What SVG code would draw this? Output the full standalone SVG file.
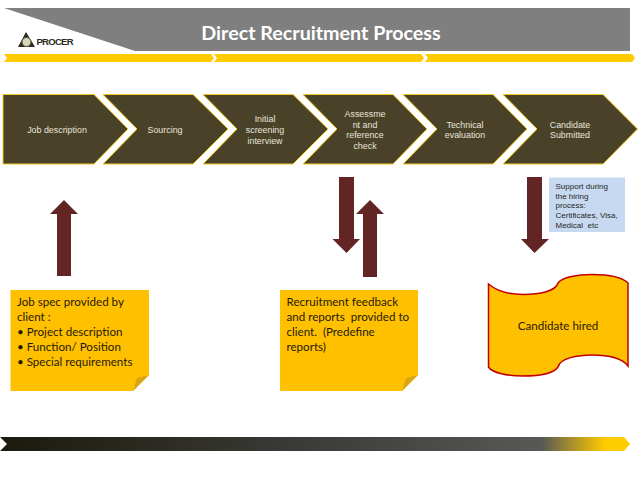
<svg xmlns="http://www.w3.org/2000/svg" width="638" height="478" viewBox="0 0 638 478">
<style>
.st{font-family:"Liberation Sans",Arial,sans-serif;font-size:8.9px;fill:#e6e4dc;text-anchor:middle}
.cal{font-family:Lato,"Open Sans",sans-serif;font-size:11.6px;fill:#1f1a05}
.chev{fill:#4a4228;stroke:#f2c81e;stroke-width:1}
.arr{fill:#632523}
.note{fill:#ffc000}
.fold{fill:#d9a514}
.y{fill:#ffcc00}
</style>
<defs>
<linearGradient id="bar" x1="0" y1="0" x2="1" y2="0">
<stop offset="0" stop-color="#1c1a0c"/>
<stop offset="0.5" stop-color="#3c3c3a"/>
<stop offset="0.86" stop-color="#585856"/>
<stop offset="0.96" stop-color="#ffcc00"/>
<stop offset="1" stop-color="#ffcc00"/>
</linearGradient>
</defs>
<g id="header">
<polygon points="4,8 630,8 630,51 135,51" fill="#7f7f7f"/>
<text x="321" y="40" font-family="Lato,'Open Sans',sans-serif" font-size="19.700" font-weight="700" fill="#fff" text-anchor="middle">Direct Recruitment Process</text>
<polygon points="4,54 211,54 214,58 211,62 4,62 7,58" class="y"/>
<polygon points="214,54 421,54 424,58 421,62 214,62 217,58" class="y"/>
<polygon points="425,54 632,54 635,58 632,62 425,62 428,58" class="y"/>
</g>
<g id="logo">
<polygon points="26,32 35,47 18,47" fill="#2b2a20"/>
<circle cx="26.500" cy="42" r="4.500" fill="#d8d6b8" stroke="#55533c"/>
<text x="36.500" y="45" font-family="'Liberation Sans',sans-serif" font-size="9.500" font-weight="700" fill="#2b2a20" textLength="37">PROCER</text>
</g>
<g id="step1"><polygon class="chev" points="3,94.500 94,94.500 128,129 94,164 3,164"/><text class="st" x="57" y="133">Job description</text></g>
<g id="step2"><polygon class="chev" points="103,94.500 193,94.500 228,129 193,164 103,164 137,129"/><text class="st" x="165" y="133">Sourcing</text></g>
<g id="step3"><polygon class="chev" points="203,94.500 293,94.500 328,129 293,164 203,164 237,129"/><text class="st"><tspan x="265" y="122">Initial</tspan><tspan x="265" y="133">screening</tspan><tspan x="265" y="143.500">interview</tspan></text></g>
<g id="step4"><polygon class="chev" points="303,94.500 393,94.500 427,129 393,164 303,164 337,129"/><text class="st"><tspan x="365" y="117">Assessme</tspan><tspan x="365" y="128">nt and</tspan><tspan x="365" y="138">reference</tspan><tspan x="365" y="149">check</tspan></text></g>
<g id="step5"><polygon class="chev" points="403,94.500 493,94.500 527,129 493,164 403,164 437,129"/><text class="st"><tspan x="465" y="128">Technical</tspan><tspan x="465" y="138">evaluation</tspan></text></g>
<g id="step6"><polygon class="chev" points="503,94.500 603,94.500 637.500,129 603,164 503,164 537,129"/><text class="st"><tspan x="570" y="128">Candidate</tspan><tspan x="570" y="138">Submitted</tspan></text></g>
<g id="connectors">
<polygon class="arr" points="57,276 71,276 71,214 78,214 64,200 50,214 57,214"/>
<polygon class="arr" points="339,177 354,177 354,239 360,239 346.500,253 332.500,239 339,239"/>
<polygon class="arr" points="363,277 377,277 377,214 384,214 370,200 356,214 363,214"/>
<polygon class="arr" points="527,177 542,177 542,239 549,239 534.500,253 521,239 527,239"/>
</g>
<g id="support"><rect x="549" y="177.500" width="76" height="54.500" fill="#c6d9f1"/>
<text font-family="'Liberation Sans',sans-serif" font-size="8" fill="#262626" xml:space="preserve"><tspan x="555.500" y="189">Support during</tspan><tspan x="555.500" y="198.500">the hiring</tspan><tspan x="555.500" y="208">process:</tspan><tspan x="555.500" y="218">Certificates, Visa,</tspan><tspan x="555.500" y="227.500">Medical  etc</tspan></text></g>
<g id="note1"><polygon class="note" points="10.500,290 149,290 149,375 133,391 10.500,391"/><polygon class="fold" points="133,391 137,378 149,375"/>
<text class="cal"><tspan x="17" y="306">Job spec provided by</tspan><tspan x="17" y="321">client :</tspan><tspan x="17" y="336">• Project description</tspan><tspan x="17" y="351">• Function/ Position</tspan><tspan x="17" y="366">• Special requirements</tspan></text></g>
<g id="note2"><polygon class="note" points="280,290 418,290 418,375 402,391 280,391"/><polygon class="fold" points="402,391 406,378 418,375"/>
<text class="cal" xml:space="preserve"><tspan x="286.500" y="306">Recruitment feedback</tspan><tspan x="286.500" y="321">and reports  provided to</tspan><tspan x="286.500" y="336">client.  (Predefine</tspan><tspan x="286.500" y="351">reports)</tspan></text></g>
<g id="hired"><path d="M488.500,284 C498,292 510,294.500 523,294.500 C540,294.500 556,291 558,283 C562,277 578,274.500 592,274.500 C608,274.500 622,277 628,283 L628,366 C622,358 608,355 592,355 C578,355 560,358 558,367 C554,373 540,376 523,376 C508,376 492,373 488.500,367 Z" fill="#ffc000" stroke="#c00000" stroke-width="1.500"/>
<text class="cal" x="558" y="330" text-anchor="middle">Candidate hired</text></g>
<g id="footer"><polygon points="0,437 624,437 630,444 624,451 0,451 7,444" fill="url(#bar)"/></g>
</svg>
